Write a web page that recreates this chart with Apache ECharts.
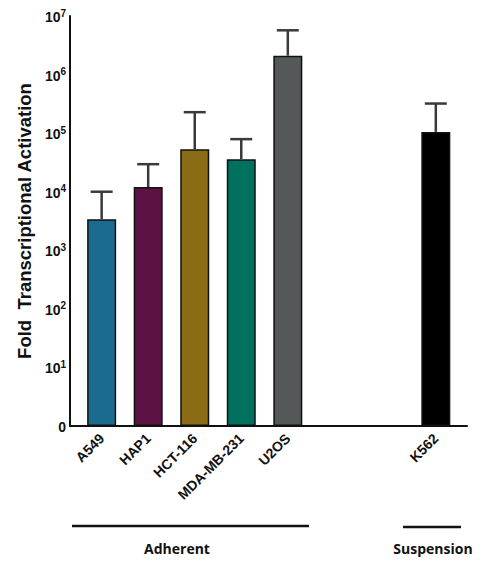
<!DOCTYPE html>
<html>
<head>
<meta charset="utf-8">
<script src="https://cdn.jsdelivr.net/npm/echarts@6/dist/echarts.min.js"></script>
<style>
html,body{margin:0;padding:0;background:#fff;}
#chart{width:490px;height:567px;}
</style>
</head>
<body>
<div id="chart"></div>
<script>
// Data
var categories = ['A549', 'HAP1', 'HCT-116', 'MDA-MB-231', 'U2OS', 'K562'];
var xPositions = [1, 2, 3, 4, 5, 8.18];
var meanValues = [3400, 12000, 53000, 36000, 2100000, 105000];
var upperErrors = [10000, 29500, 228000, 79000, 5700000, 320000];
var barColors = ['#1b6a8f', '#5c1245', '#8b6b14', '#00705f', '#545859', '#000000'];
var yTickExponents = [0, 1, 2, 3, 4, 5, 6, 7];
var groupLabels = ['Adherent', 'Suspension'];

var barData = categories.map(function (c, i) {
  return { value: [xPositions[i], meanValues[i]], itemStyle: { color: barColors[i] } };
});
var errData = categories.map(function (c, i) {
  return [xPositions[i], meanValues[i], upperErrors[i]];
});

var FONT = 'Liberation Sans, Arial, sans-serif';
var chart = echarts.init(document.getElementById('chart'), null, { renderer: 'svg' });
var option = {
  backgroundColor: '#ffffff',
  animation: false,
  grid: { left: 70, right: 23, top: 16, bottom: 141, containLabel: false },
  xAxis: {
    type: 'value',
    min: 0.32,
    max: 8.85,
    splitLine: { show: false },
    axisLine: { show: true, onZero: false, lineStyle: { color: '#111', width: 2 } },
    axisTick: { show: false },
    axisLabel: {
      customValues: xPositions,
      rotate: 45,
      interval: 0,
      margin: 10,
      color: '#111',
      fontFamily: FONT,
      fontWeight: 'bold',
      fontSize: 14,
      formatter: function (v) {
        for (var i = 0; i < xPositions.length; i++) {
          if (Math.abs(xPositions[i] - v) < 1e-6) return categories[i];
        }
        return '';
      }
    }
  },
  yAxis: {
    type: 'log',
    logBase: 10,
    min: Math.pow(10, yTickExponents[0]),
    max: Math.pow(10, yTickExponents[yTickExponents.length - 1]),
    splitLine: { show: false },
    axisLine: { show: true, lineStyle: { color: '#111', width: 2 } },
    axisTick: { show: false },
    name: 'Fold  Transcriptional Activation',
    nameLocation: 'middle',
    nameGap: 33,
    nameRotate: 90,
    nameTextStyle: {
      color: '#111',
      fontFamily: FONT,
      fontWeight: 'bold',
      fontSize: 18.5
    },
    axisLabel: {
      margin: 4,
      color: '#111',
      fontFamily: FONT,
      fontWeight: 'bold',
      fontSize: 14,
      formatter: function (v) {
        var e = Math.round(Math.log10(v));
        if (e === 0) return '{a|0}';
        return '{a|10}{s|' + e + '}';
      },
      rich: {
        a: { fontFamily: FONT, fontWeight: 'bold', fontSize: 14, color: '#111', lineHeight: 16, verticalAlign: 'bottom' },
        s: { fontFamily: FONT, fontWeight: 'bold', fontSize: 10, color: '#111', lineHeight: 16, verticalAlign: 'top', padding: [0, 0, 6, 0] }
      }
    }
  },
  series: [
    {
      type: 'bar',
      barWidth: 29,
      data: barData,
      itemStyle: { borderColor: '#111', borderWidth: 1.5 },
      z: 2
    },
    {
      type: 'custom',
      z: 3,
      data: errData,
      renderItem: function (params, api) {
        var x = api.value(0);
        var p0 = api.coord([x, api.value(1)]);
        var p1 = api.coord([x, api.value(2)]);
        var half = 11;
        var style = { stroke: '#3a3a3a', lineWidth: 2.5, fill: null };
        return {
          type: 'group',
          children: [
            { type: 'line', shape: { x1: p0[0], y1: p0[1], x2: p1[0], y2: p1[1] }, style: style },
            { type: 'line', shape: { x1: p1[0] - half, y1: p1[1], x2: p1[0] + half, y2: p1[1] }, style: style }
          ]
        };
      }
    }
  ],
  graphic: [
    { type: 'line', shape: { x1: 72, y1: 526, x2: 309, y2: 526 }, style: { stroke: '#111', lineWidth: 2.5 } },
    { type: 'line', shape: { x1: 403, y1: 527, x2: 461, y2: 527 }, style: { stroke: '#111', lineWidth: 2.5 } },
    { type: 'text', x: 177, y: 548, style: { text: groupLabels[0], fill: '#111', font: 'bold 14px "Open Sans", Arial, sans-serif', textAlign: 'center', textVerticalAlign: 'middle' } },
    { type: 'text', x: 433, y: 548, style: { text: groupLabels[1], fill: '#111', font: 'bold 14px "Open Sans", Arial, sans-serif', textAlign: 'center', textVerticalAlign: 'middle' } }
  ]
};
chart.setOption(option);
</script>
</body>
</html>
